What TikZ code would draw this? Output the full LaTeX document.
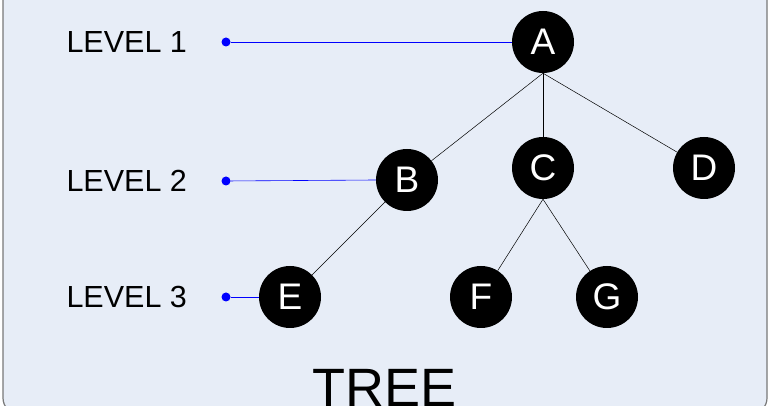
\documentclass[tikz,border=0pt]{standalone}
\usepackage{fontspec}
\setmainfont{Liberation Sans}
\begin{document}
\begin{tikzpicture}[x=1pt,y=-1pt,
  tn/.style={circle,fill=black,minimum size=62pt,inner sep=0pt,text=white,font=\fontsize{37}{37}\selectfont},
  lvl/.style={font=\fontsize{30.5}{30.5}\selectfont,anchor=west},
  dotc/.style={circle,fill=blue,minimum size=9pt,inner sep=0pt},
  lk/.style={blue,line width=0.6pt},
  ed/.style={black,line width=0.5pt}]
\useasboundingbox (0,0) rectangle (772,406);
\begin{scope}
\clip (0,0) rectangle (772,406);
\draw[fill={rgb,255:red,231;green,237;blue,247},draw={rgb,255:red,120;green,120;blue,120},line width=1.2pt,rounded corners=16pt] (3,-20) rectangle (767,414);
\end{scope}
\node[tn] (A) at (543,42) {A};
\node[tn] (B) at (407,180) {B};
\node[tn] (C) at (543,168) {C};
\node[tn] (D) at (704,168) {D};
\node[tn] (E) at (290,297) {E};
\node[tn] (F) at (481,297) {F};
\node[tn] (G) at (607,297) {G};
\draw[ed] (A.south) -- (B);
\draw[ed] (A.south) -- (C);
\draw[ed] (A.south) -- (D);
\draw[ed] (C.south) -- (F);
\draw[ed] (C.south) -- (G);
\draw[ed] (B) -- (E);
\foreach \tn/\nm/\y/\t in {A/1/42/LEVEL 1,B/2/181/LEVEL 2,E/3/297/LEVEL 3}{
  \node[lvl] (L\nm) at (63,\y) {\t};
  \node[dotc] (d\nm) at (226,\y) {};
  \draw[lk] (d\nm) -- (\tn.west);
}
\node[font=\fontsize{54}{54}\selectfont] (T) at (385,388) {TREE};
\end{tikzpicture}
\end{document}
